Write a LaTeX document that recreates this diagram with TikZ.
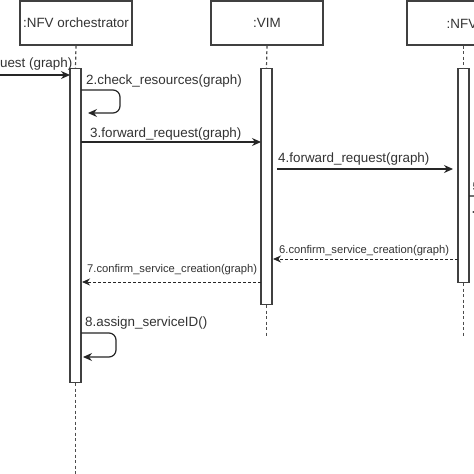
\documentclass[tikz,border=0pt]{standalone}
\usepackage{fontspec}
\setmainfont{Liberation Sans}
\usetikzlibrary{arrows.meta}
\begin{document}
\begin{tikzpicture}[x=1pt,y=-1pt,
  lbl/.style={font=\fontsize{13.4}{16}\selectfont, text=black!80, inner sep=0pt, anchor=base west},
  slbl/.style={font=\fontsize{11.2}{13}\selectfont, text=black!80, inner sep=0pt, anchor=base west},
  head/.style={draw=black!75, line width=1.2pt, fill=white, minimum width=112pt, minimum height=44pt, inner sep=0pt, font=\fontsize{13.4}{16}\selectfont, text=black!80},
  act/.style={draw=black!75, line width=1.2pt, fill=white, minimum width=11pt, inner sep=0pt, anchor=north},
  life/.style={draw=black!70, line width=1.2pt, dash pattern=on 3pt off 2.5pt},
  msg/.style={draw=black!85, line width=1.2pt, -{Stealth[length=9pt,width=8pt]}},
  ret/.style={draw=black!85, line width=1pt, dash pattern=on 3pt off 2pt, -{Stealth[length=8pt,width=7pt]}},
]
\useasboundingbox (0,0) rectangle (474,474);
\clip (0,0) rectangle (474,474);
\fill[white] (0,0) rectangle (474,474);

% lifeline heads
\node[head] (hO) at (76,23) {:NFV orchestrator};
\node[head] (hV) at (267,23) {:VIM};
\node[head] (hN) at (463,23) {};
\node[font=\fontsize{13.4}{16}\selectfont, text=black!80, inner sep=0pt, anchor=west] (hNt) at (446.5,24) {:NFV};

% activations
\node[act, minimum height=314pt] (aO) at (75.5,68) {};
\node[act, minimum height=236pt] (aV) at (266.5,68) {};
\node[act, minimum height=214pt] (aN) at (463.5,68) {};

% lifelines
\coordinate (eO) at (75.5,480);
\coordinate (eV) at (266.5,337);
\coordinate (eN) at (463.5,337);
\draw[life] (hO.south) -- (aO.north);
\draw[life] (hV.south) -- (aV.north);
\draw[life] (hN.south -| aN.north) -- (aN.north);
\draw[life] (aO.south) -- (eO);
\draw[life] (aV.south) -- (eV);
\draw[life] (aN.south) -- (eN);

% 1
\coordinate (m1s) at (-5,75);
\coordinate (m1e) at (70,75);
\draw[msg] (m1s) -- (m1e);
\node[lbl, anchor=base east] (l1) at (72.5,67) {quest (graph)};

% 2 self call
\coordinate (m2s) at (81,90);
\coordinate (m2e) at (88,113);
\draw[msg, rounded corners=7pt] (m2s) -- (120,90) -- (120,113) -- (m2e);
\node[lbl] (l2) at (86,84) {2.check\_resources(graph)};

% 3
\coordinate (m3s) at (81,142);
\coordinate (m3e) at (261,142);
\draw[msg] (m3s) -- (m3e);
\node[lbl] (l3) at (90,137) {3.forward\_request(graph)};

% 4
\coordinate (m4s) at (277,169);
\coordinate (m4e) at (453,169);
\draw[msg] (m4s) -- (m4e);
\node[lbl] (l4) at (278,162) {4.forward\_request(graph)};

% 5 (cut off at the right edge)
\coordinate (m5s) at (469,196);
\coordinate (m5e) at (472,212);
\draw[msg, rounded corners=7pt] (m5s) -- (505,196) -- (505,212) -- (m5e);
\node[slbl] (l5) at (472.5,190) {5};

% 6
\coordinate (m6s) at (458,259);
\coordinate (m6e) at (273,259);
\draw[ret] (m6s) -- (m6e);
\node[slbl] (l6) at (279,253) {6.confirm\_service\_creation(graph)};

% 7
\coordinate (m7s) at (261,282);
\coordinate (m7e) at (82,282);
\draw[ret] (m7s) -- (m7e);
\node[slbl] (l7) at (87,272) {7.confirm\_service\_creation(graph)};

% 8 self call
\coordinate (m8s) at (81,333);
\coordinate (m8e) at (83,357);
\draw[msg, rounded corners=7pt] (m8s) -- (116,333) -- (116,357) -- (m8e);
\node[lbl] (l8) at (85,326) {8.assign\_serviceID()};
\end{tikzpicture}
\end{document}
